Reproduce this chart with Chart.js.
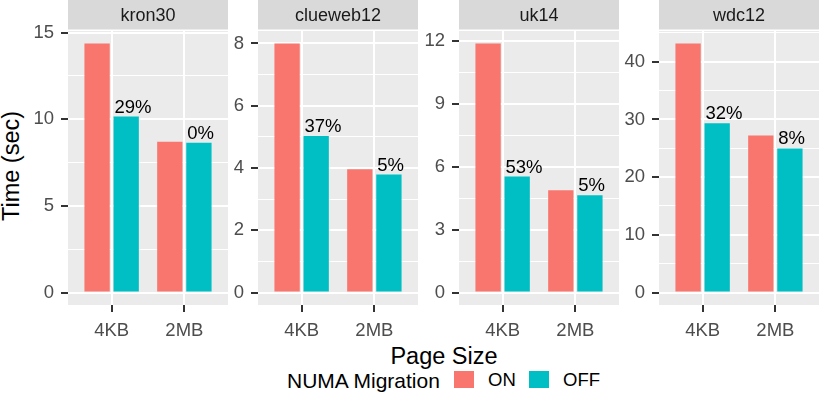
<!DOCTYPE html>
<html>
<head>
<meta charset="utf-8">
<script src="https://cdn.jsdelivr.net/npm/chart.js@4.4.1/dist/chart.umd.min.js"></script>
<style>
  body { margin: 0; background: #fff; font-family: "Liberation Sans", Arial, sans-serif; }
  #wrap { position: relative; width: 830px; height: 393px; overflow: hidden; }
  #wrap canvas { position: absolute; top: 0; }
  .txt { position: absolute; white-space: nowrap; color: #000; line-height: 1; }
  .key { position: absolute; width: 20px; height: 17px; }
</style>
</head>
<body>
<div id="wrap">
  <div class="txt" id="yTitle" style="left:12px; top:166px; font-size:23.5px; transform:translate(-50%,-50%) rotate(-90deg);">Time (sec)</div>
  <div class="txt" style="left:444px; top:357px; font-size:23.5px; transform:translate(-50%,-50%);">Page Size</div>
  <div class="txt" style="left:287px; top:380px; font-size:21px; transform:translateY(-50%);">NUMA Migration</div>
  <div class="key" style="left:454px; top:371px; background:#F8766D;"></div>
  <div class="txt" style="left:488px; top:380px; font-size:18.5px; transform:translateY(-50%);">ON</div>
  <div class="key" style="left:529px; top:371px; background:#00BFC4;"></div>
  <div class="txt" style="left:563px; top:380px; font-size:18.5px; transform:translateY(-50%);">OFF</div>
</div>
<script>
// data
const panels = ["kron30", "clueweb12", "uk14", "wdc12"];
const pageSizes = ["4KB", "2MB"];
const onTimes = [[14.37, 8.70], [8.00, 3.96], [11.86, 4.87], [43.17, 27.22]];
const offTimes = [[10.15, 8.64], [5.03, 3.79], [5.52, 4.63], [29.35, 24.98]];
const savings = [["29%", "0%"], ["37%", "5%"], ["53%", "5%"], ["32%", "8%"]];
const yStep = [5, 2, 3, 10];

const ON_COLOR = "#F8766D";
const OFF_COLOR = "#00BFC4";
const FONT = "'Liberation Sans', Arial, sans-serif";

// layout
const panelLeft = [68, 258, 459, 659];
const AXIS_W = 68, PANEL_W = 160, CANVAS_H = 345, STRIP_H = 29.5, X_AXIS_H = 40;

const facetPlugin = {
  id: "facet",
  beforeDraw(chart, args, opts) {
    const { ctx, chartArea: a } = chart;
    ctx.save();
    ctx.fillStyle = "#EBEBEB";
    ctx.fillRect(a.left, a.top, a.right - a.left, a.bottom - a.top);
    ctx.fillStyle = "#D9D9D9";
    ctx.fillRect(a.left, 0, a.right - a.left, STRIP_H);
    ctx.fillStyle = "#1A1A1A";
    ctx.font = "18px " + FONT;
    ctx.textAlign = "center";
    ctx.textBaseline = "middle";
    ctx.fillText(opts.title, (a.left + a.right) / 2, STRIP_H / 2 + 1);
    ctx.restore();
  },
  afterDatasetsDraw(chart, args, opts) {
    const { ctx } = chart;
    const meta = chart.getDatasetMeta(1);
    ctx.save();
    ctx.fillStyle = "#000";
    ctx.font = "18.5px " + FONT;
    ctx.textAlign = "left";
    ctx.textBaseline = "alphabetic";
    meta.data.forEach((bar, j) => {
      ctx.fillText(opts.labels[j], bar.x - bar.width / 2 + 1, bar.y - 4);
    });
    ctx.restore();
  }
};

const wrap = document.getElementById("wrap");

panels.forEach((name, i) => {
  const step = yStep[i];
  const top = Math.max(...onTimes[i], ...offTimes[i]);
  const isMajor = v => Math.abs(v / step - Math.round(v / step)) < 1e-6;

  const canvas = document.createElement("canvas");
  canvas.width = AXIS_W + PANEL_W;
  canvas.height = CANVAS_H;
  canvas.style.left = (panelLeft[i] - AXIS_W) + "px";
  wrap.appendChild(canvas);

  new Chart(canvas.getContext("2d"), {
    type: "bar",
    data: {
      datasets: [
        { label: "ON", data: pageSizes.map((_, j) => ({ x: j, y: onTimes[i][j] })), backgroundColor: ON_COLOR },
        { label: "OFF", data: pageSizes.map((_, j) => ({ x: j, y: offTimes[i][j] })), backgroundColor: OFF_COLOR }
      ]
    },
    options: {
      responsive: false,
      animation: false,
      categoryPercentage: 0.8,
      barPercentage: 0.87,
      borderWidth: 0,
      layout: { padding: { top: STRIP_H + 1.5, left: 0, right: 0, bottom: 0 } },
      plugins: {
        legend: { display: false },
        tooltip: { enabled: false },
        facet: { title: name, labels: savings[i] }
      },
      scales: {
        x: {
          type: "linear",
          offset: false,
          min: -0.6,
          max: 1.6,
          afterBuildTicks: s => { s.ticks = pageSizes.map((_, j) => ({ value: j })); },
          afterFit: s => { s.height = X_AXIS_H; },
          border: { display: false },
          grid: { offset: false, color: "#FFFFFF", lineWidth: 2, tickColor: "#333333", tickLength: 7, tickWidth: 2 },
          ticks: {
            autoSkip: false,
            maxRotation: 0,
            padding: 8,
            color: "#4D4D4D",
            font: { family: FONT, size: 18.5 },
            callback: v => pageSizes[v]
          }
        },
        y: {
          min: -0.05 * top,
          max: 1.05 * top,
          afterBuildTicks: s => {
            const t = [];
            for (let v = 0; v <= s.max + 1e-9; v += step / 2) t.push({ value: +v.toFixed(3) });
            s.ticks = t;
          },
          afterFit: s => { s.width = AXIS_W; },
          border: { display: false },
          grid: {
            color: "#FFFFFF",
            lineWidth: c => (c.tick && !isMajor(c.tick.value)) ? 1 : 2,
            tickColor: c => (c.tick && !isMajor(c.tick.value)) ? "rgba(0,0,0,0)" : "#333333",
            tickLength: 7,
            tickWidth: 2
          },
          ticks: {
            autoSkip: false,
            padding: 7,
            color: "#4D4D4D",
            font: { family: FONT, size: 18.5 },
            callback: v => isMajor(v) ? String(v) : ""
          }
        }
      }
    },
    plugins: [facetPlugin]
  });
});
</script>
</body>
</html>
